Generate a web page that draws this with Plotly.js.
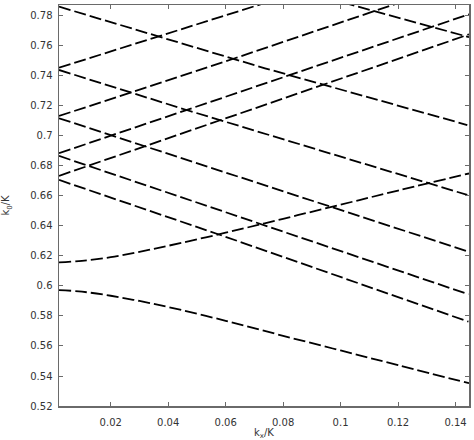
<!DOCTYPE html>
<html>
<head>
<meta charset="utf-8">
<script src="https://cdn.plot.ly/plotly-3.0.1.min.js"></script>
<style>html,body{margin:0;padding:0;background:#fff;}#chart{width:474px;height:440px;}</style>
</head>
<body>
<div id="chart"></div>
<script>
// ---- data ----
const kxGrid = [0.002, 0.01, 0.02, 0.03, 0.04, 0.06, 0.08, 0.10, 0.12, 0.1447];
const k0LowerCurve = [0.5973, 0.5962, 0.5935, 0.5900, 0.5860, 0.5768, 0.5668, 0.5570, 0.5472, 0.5352];
const k0UpperCurve = [0.6157, 0.6168, 0.6192, 0.6228, 0.6268, 0.6355, 0.6448, 0.6542, 0.6636, 0.6750];

const kxDownA = [0.002, 0.0737, 0.1441];  const k0DownA = [0.7862, 0.7451, 0.7073];
const kxDownB = [0.002, 0.0464, 0.1441];  const k0DownB = [0.7440, 0.7173, 0.6607];
const kxDownC = [0.002, 0.0737, 0.1445];  const k0DownC = [0.7118, 0.6673, 0.6229];
const kxDownD = [0.002, 0.0719, 0.1445];  const k0DownD = [0.6867, 0.6413, 0.5945];
const kxDownE = [0.002, 0.0574, 0.1445];  const k0DownE = [0.6707, 0.6345, 0.5762];
const kxDownF = [0.090, 0.1307, 0.1447];  const k0DownF = [0.7947, 0.7729, 0.7659];

const kxUpA = [0.002, 0.0371, 0.080];  const k0UpA = [0.7455, 0.7667, 0.7925];
const kxUpB = [0.002, 0.0632, 0.125];  const k0UpB = [0.7133, 0.7518, 0.7918];
const kxUpC = [0.002, 0.0825, 0.1447]; const k0UpC = [0.6885, 0.7407, 0.7811];
const kxUpD = [0.002, 0.0586, 0.1447]; const k0UpD = [0.6734, 0.7107, 0.7677];

const xTitle = 'k<sub>x</sub>/K';
const yTitle = 'k<sub>0</sub>/K';

// ---- chart ----
const lineStyle = {color: '#000', width: 1.8, dash: '12px,4px'};
function band(x, y, smooth) {
  return {x: x, y: y, type: 'scatter', mode: 'lines',
          line: Object.assign({}, lineStyle, smooth ? {shape: 'spline', smoothing: 1} : {}),
          hoverinfo: 'skip'};
}
const traces = [
  band(kxGrid, k0LowerCurve, true),
  band(kxGrid, k0UpperCurve, true),
  band(kxDownA, k0DownA), band(kxDownB, k0DownB), band(kxDownC, k0DownC),
  band(kxDownD, k0DownD), band(kxDownE, k0DownE), band(kxDownF, k0DownF),
  band(kxUpA, k0UpA), band(kxUpB, k0UpB), band(kxUpC, k0UpC), band(kxUpD, k0UpD)
];

const axisCommon = {
  showgrid: false, zeroline: false, showline: true, linecolor: '#6a6a6a', linewidth: 1.5,
  mirror: 'ticks', ticks: 'inside', ticklen: 4, tickwidth: 1, tickcolor: '#6a6a6a',
  tickfont: {family: 'DejaVu Sans', size: 10, color: '#333'}
};

const layout = {
  width: 474, height: 440,
  margin: {l: 59, r: 5, t: 5, b: 34},
  paper_bgcolor: '#fff', plot_bgcolor: '#fff',
  showlegend: false,
  xaxis: Object.assign({}, axisCommon, {
    range: [0.002, 0.1447], tick0: 0, dtick: 0.02, ticklabelstandoff: 6,
    title: {text: xTitle, font: {family: 'DejaVu Sans', size: 10, color: '#333'}, standoff: 2}
  }),
  yaxis: Object.assign({}, axisCommon, {
    range: [0.52, 0.7873], tick0: 0.52, dtick: 0.02, ticklabelstandoff: 3,
    title: {text: yTitle, font: {family: 'DejaVu Sans', size: 10, color: '#333'}, standoff: 18}
  })
};

Plotly.newPlot('chart', traces, layout, {staticPlot: true, displayModeBar: false});
</script>
</body>
</html>
